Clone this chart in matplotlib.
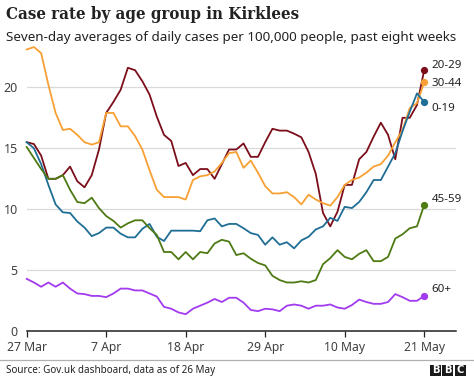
import matplotlib
matplotlib.use("Agg")
import matplotlib.pyplot as plt
import matplotlib.dates as mdates
import numpy as np
import pandas as pd
from matplotlib.patches import Rectangle

dates = pd.date_range("2021-03-27", periods=56, freq="D")

age_20_29 = [15.5, 15.35, 14.4, 12.5, 12.5, 12.8, 13.5, 12.3, 11.8, 12.8,
             14.9, 17.9, 18.8, 19.8, 21.6, 21.4, 20.5, 19.4, 17.6, 16.1,
             15.6, 13.55, 13.8, 12.8, 13.3, 13.3, 12.5, 13.7, 14.9, 14.9,
             15.4, 14.3, 14.3, 15.5, 16.6, 16.45, 16.45, 16.2, 15.9, 14.7,
             12.9, 9.7, 8.6, 9.8, 12.0, 12.0, 14.1, 14.7, 15.95, 17.1,
             16.1, 14.1, 17.5, 17.5, 18.55, 21.4]

age_30_44 = [23.1, 23.3, 22.8, 20.2, 17.9, 16.5, 16.6, 16.1, 15.5, 15.3,
             15.5, 17.9, 17.9, 16.8, 16.8, 16.0, 14.9, 13.2, 11.6, 11.0,
             11.0, 11.0, 10.8, 12.4, 12.7, 12.8, 13.1, 13.8, 14.6, 14.7,
             13.4, 14.0, 13.0, 11.9, 11.3, 11.3, 11.4, 11.0, 10.4, 11.2,
             10.8, 10.5, 10.3, 11.0, 12.0, 12.4, 12.6, 13.0, 13.5, 13.7,
             14.4, 15.5, 16.5, 18.3, 18.7, 20.4]

age_0_19 = [15.5, 15.0, 13.7, 12.0, 10.4, 9.75, 9.7, 9.0, 8.5, 7.8,
            8.05, 8.5, 8.5, 8.0, 7.7, 7.7, 8.4, 8.8, 7.75, 7.4,
            8.25, 8.25, 8.25, 8.25, 8.2, 9.1, 9.25, 8.6, 8.8, 8.8,
            8.45, 8.05, 7.9, 7.1, 7.7, 7.1, 7.3, 6.8, 7.45, 7.75,
            8.35, 8.6, 9.3, 9.05, 10.2, 10.1, 10.6, 11.4, 12.4, 12.4,
            13.5, 14.6, 16.4, 18.0, 19.5, 18.8]

age_45_59 = [15.1, 14.2, 13.3, 12.5, 12.5, 12.8, 11.6, 10.6, 10.5, 10.95,
             10.1, 9.45, 9.05, 8.5, 8.85, 9.1, 9.1, 8.45, 7.9, 6.5,
             6.5, 5.9, 6.5, 5.9, 6.5, 6.4, 7.2, 7.5, 7.35, 6.25,
             6.4, 5.95, 5.6, 5.4, 4.55, 4.2, 4.0, 4.0, 4.1, 4.0,
             4.2, 5.5, 6.0, 6.65, 6.1, 5.9, 6.35, 6.65, 5.75, 5.75,
             6.1, 7.6, 7.95, 8.45, 8.6, 10.35]

age_60_plus = [4.3, 4.0, 3.65, 4.0, 3.65, 4.0, 3.5, 3.1, 3.05, 2.9,
               2.9, 2.8, 3.1, 3.5, 3.5, 3.35, 3.35, 3.1, 2.85, 2.0,
               1.85, 1.55, 1.4, 1.85, 2.1, 2.35, 2.65, 2.4, 2.75, 2.75,
               2.35, 1.75, 1.65, 1.85, 1.8, 1.65, 2.1, 2.2, 2.1, 1.85,
               2.1, 2.1, 2.2, 1.95, 1.85, 2.15, 2.6, 2.4, 2.25, 2.25,
               2.4, 3.05, 2.8, 2.5, 2.5, 2.9]

series_names = ["20-29", "30-44", "0-19", "45-59", "60+"]
series_values = [age_20_29, age_30_44, age_0_19, age_45_59, age_60_plus]
colors = ["#7b0e1a", "#f7a034", "#1f6e96", "#4e7a14", "#a23bf0"]
label_offsets = [(5.3, 3.6), (5.3, -0.7), (5.3, -5.0), (5.3, 4.0), (5.3, 4.3)]

yticks = [0, 5, 10, 15, 20]
xtick_dates = pd.to_datetime(["2021-03-27", "2021-04-07", "2021-04-18",
                              "2021-04-29", "2021-05-10", "2021-05-21"])
xtick_labels = ["27 Mar", "7 Apr", "18 Apr", "29 Apr", "10 May", "21 May"]

title = "Case rate by age group in Kirklees"
subtitle = "Seven-day averages of daily cases per 100,000 people, past eight weeks"
source = "Source: Gov.uk dashboard, data as of 26 May"

W, H = 474, 379
fig = plt.figure(figsize=(W / 100, H / 100), dpi=100)
ax = fig.add_axes([26.7 / W, 1 - 331.3 / H, (456 - 26.7) / W, (331.3 - 38.5) / H])

sans = "Noto Sans"
gray_text = "#404040"

for name, vals, col, off in zip(series_names, series_values, colors, label_offsets):
    ax.plot(dates, vals, color=col, lw=1.3, clip_on=False, zorder=3)
    ax.plot(dates[-1], vals[-1], "o", color=col, ms=4.2, clip_on=False, zorder=4)
    ax.annotate(name, xy=(dates[-1], vals[-1]), xytext=off, textcoords="offset points",
                ha="left", va="center", fontsize=8.3, fontweight="bold",
                family=sans, color="#222222", annotation_clip=False)

ax.set_ylim(0, 24)
ax.set_xlim(dates[0], dates[0] + pd.Timedelta(days=59.4))
ax.set_yticks(yticks)
ax.set_yticklabels([str(v) for v in yticks], family=sans, fontsize=9, color=gray_text)
ax.set_xticks(xtick_dates)
ax.set_xticklabels(xtick_labels, family=sans, fontsize=8.8, color=gray_text)
ax.tick_params(axis="y", length=0, pad=6.5)
ax.tick_params(axis="x", length=4.5, width=0.9, color="#222222", pad=2.5)
ax.grid(axis="y", color="#d9d9d9", lw=0.9)
ax.set_axisbelow(True)
for s in ["top", "right", "left"]:
    ax.spines[s].set_visible(False)
ax.spines["bottom"].set_color("#222222")
ax.spines["bottom"].set_linewidth(1.1)
ax.spines["bottom"].set_zorder(5)

fig.text(6 / W, 1 - 14.5 / H, title, family="DejaVu Serif", fontweight="bold",
         fontstretch="condensed", fontsize=12.1, color="#222222", ha="left", va="center")
fig.text(6 / W, 1 - 37 / H, subtitle, family=sans, fontsize=9.7,
         color="#222222", ha="left", va="center")

fig.add_artist(plt.Line2D([0, 1], [1 - 360 / H, 1 - 360 / H], transform=fig.transFigure,
                          color="#b0b0b0", lw=0.9))
fig.text(6 / W, 1 - 370.5 / H, source, family=sans, fontsize=7.1,
         color="#222222", ha="left", va="center")

# BBC blocks
bx0, by0, bw, bh, gap = 430, 364.5, 10.8, 11.5, 1.6
for i, letter in enumerate("BBC"):
    x = bx0 + i * (bw + gap)
    fig.add_artist(Rectangle((x / W, 1 - (by0 + bh) / H), bw / W, bh / H,
                             transform=fig.transFigure, color="#1a1a1a", lw=0))
    fig.text((x + bw / 2) / W, 1 - (by0 + bh / 2 + 0.2) / H, letter, family="DejaVu Sans",
             fontweight="bold", fontsize=7.2, color="white", ha="center", va="center")

fig.savefig("out.png", dpi=100)
